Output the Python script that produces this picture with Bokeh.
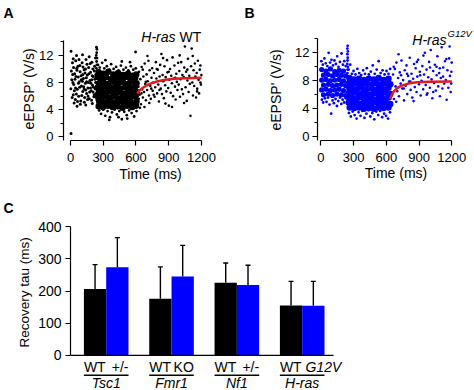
import math
from bokeh.plotting import figure
from bokeh.models import (ColumnDataSource, Range1d, FixedTicker, Label, Whisker,
                          TeeHead, Title)
from bokeh.layouts import column, row
from bokeh.embed import file_html
from bokeh.resources import INLINE

FONT = "Liberation Sans"

# ---------------- data: panel A (H-ras WT), time (ms), eEPSP' (V/s) -------------
A_EARLY = [(5,12.6),(12,8.4),(18,10.9),(25,6.2),(30,7.7),(38,9.3),(44,5.5),(50,8.9),(55,12.0),
           (62,7.0),(68,10.4),(75,6.0),(80,8.1),(88,9.6),(94,5.3),(100,7.5),(106,10.9),(112,6.7),
           (118,8.6),(125,9.9),(130,5.8),(136,7.9),(142,11.4),(148,6.4),(154,9.1),(160,7.2),
           (166,10.2),(172,5.6),(178,8.3),(184,9.5),(190,6.8),(196,11.0),(202,7.6),(208,8.9),
           (214,5.9),(220,10.4),(226,7.1),(232,9.2),(8,9.7),(15,5.8),(22,8.0),(28,10.2),(35,6.8),
           (41,8.5),(48,11.2),(53,6.3),(59,9.8),(65,5.2),(71,8.8),(78,11.4),(84,7.3),(90,4.8),
           (97,9.0),(103,6.1),(109,8.2),(115,10.3),(121,7.4),(127,5.1),(133,9.4),(139,6.9),
           (145,8.7),(151,10.7),(157,5.5),(163,8.0),(169,9.3),(175,6.6),(181,10.8),(187,7.9),
           (193,5.4),(199,9.0),(205,10.0),(211,7.3),(217,6.2),(223,8.5),(229,11.6),(234,6.4),
           (3,7.1),(20,9.2),(33,5.0),(46,7.2),(57,10.1),(73,7.9),(86,10.5),(99,8.4),(113,9.2),
           (124,7.0),(138,10.0),(147,8.1),(161,6.0),(171,11.8),(183,7.2),(195,8.4),(207,6.6),
           (219,9.7),(230,8.0),(60,4.5),(140,4.7),(200,4.9),(25,11.5),(110,12.1),(5,0.5)]
A_SPIKE = [(238,13.2),(242,12.9),(240,12.4),(236,12.0),(243,11.6),(239,11.1),(241,10.6),
           (237,10.1),(244,9.7),(238,9.2),(242,8.6),(240,8.0),(236,7.4),(243,6.8),(239,6.1),
           (241,5.4)]
A_TRAIN_CORE = [(258,9.5),(301,9.3),(347,9.6),(392,9.2),(436,9.4),(481,9.1),(527,9.3),(571,9.0),(602,9.2),
                (250,8.8),(280,8.6),(324,8.8),(369,8.5),(414,8.7),(459,8.6),(503,8.8),(549,8.5),(593,8.7),
                (262,7.9),(303,8.0),(346,7.8),(391,8.1),(437,7.9),(482,8.0),(526,7.8),(570,8.1),(605,7.9),
                (250,7.3),(283,7.2),(325,7.4),(369,7.2),(413,7.3),(458,7.1),(504,7.3),(548,7.2),(592,7.4),
                (261,6.6),(304,6.5),(347,6.7),(392,6.5),(436,6.6),(481,6.4),(526,6.6),(571,6.5),(606,6.6),
                (252,5.9),(284,5.8),(326,6.0),(370,5.8),(414,5.9),(459,5.7),(504,5.9),(549,5.8),(593,6.0),
                (263,5.2),(305,5.1),(348,5.3),(393,5.0),(437,5.2),(482,5.1),(527,5.3),(571,5.0),(604,5.2),
                (258,4.5),(298,4.4),(343,4.6),(386,4.4),(431,4.5),(476,4.3),(520,4.6),(566,4.4),(600,4.6)]
A_TRAIN_EDGE = [(252,10.6),(268,10.2),(290,10.9),(310,10.1),(333,10.4),(356,9.9),(372,10.7),(395,10.0),
                (418,10.3),(440,9.8),(462,10.5),(485,9.9),(508,10.2),(530,9.8),(553,10.4),(575,9.9),
                (598,10.1),(596,12.5),(470,11.1),(320,11.3),(545,11.0),
                (262,3.9),(280,3.4),(300,4.0),(318,3.1),(340,3.8),(362,2.9),(380,3.6),(404,4.0),
                (425,3.3),(447,3.8),(470,2.6),(492,3.7),(515,3.2),(537,3.9),(560,3.5),(583,3.0),
                (605,3.8),(355,2.5),(440,2.9),(520,2.7)]
A_RECOVERY = [(618,5.1),(622,7.4),(628,9.6),(633,6.2),(640,8.5),(646,4.8),(652,10.3),(657,7.0),(663,5.8),
              (668,8.9),(674,6.6),(680,10.8),(685,7.8),(691,5.4),(697,9.2),(702,6.9),(708,8.2),(714,11.2),
              (719,6.1),(725,9.8),(731,7.5),(736,5.6),(742,8.7),(748,10.1),(753,6.8),(759,8.0),(765,9.4),
              (770,5.9),(776,7.3),(782,11.0),(787,8.6),(793,6.4),(799,9.9),(804,7.7),(810,5.2),(816,8.9),
              (821,10.6),(827,7.1),(833,12.2),(838,6.3),(844,9.1),(850,8.2),(855,5.7),(861,10.4),(867,7.6),
              (872,8.8),(878,6.7),(884,11.3),(889,9.5),(895,7.2),(901,4.6),(906,8.4),(912,10.0),(918,6.5),
              (923,9.0),(929,7.9),(935,11.7),(940,6.0),(946,8.6),(952,10.5),(957,7.4),(963,5.5),(969,9.3),
              (974,8.1),(980,6.9),(986,10.9),(991,7.7),(997,9.7),(1003,5.9),(1008,8.5),(1014,11.0),
              (1020,7.0),(1025,9.1),(1031,6.3),(1037,8.8),(1042,10.2),(1048,13.3),(1054,7.3),(1059,9.6),
              (1065,5.3),(1071,8.3),(1076,11.5),(1082,6.6),(1088,9.0),(1093,7.8),(1099,3.1),(1105,10.4),
              (1110,13.0),(1116,8.0),(1122,6.1),(1127,9.8),(1133,7.5),(1139,10.8),(1144,8.9),(1150,5.8),
              (1156,9.4),(1161,7.1),(1167,11.2),(1173,8.4),(1178,6.4),(1184,9.9),(1190,10.5),(1195,7.7),
              (1199,9.1),(615,6.0),(625,5.6),(637,4.3),(650,6.4),(662,9.9),(677,4.4),(690,8.1),(705,11.9),
              (722,5.0),(740,7.1),(762,6.2),(790,10.0),(815,6.9),(848,11.6),(870,4.9),(900,9.6),(930,4.4),
              (960,8.7),(1000,12.0),(1040,5.0),(1070,9.9),(1120,11.9),(1160,6.7),(1190,8.0)]
A_FIT = [(611,6.4),(630,6.8),(660,7.2),(700,7.6),(750,7.95),(800,8.2),(870,8.4),(950,8.55),
         (1050,8.65),(1200,8.7)]

# ---------------- data: panel B (H-ras G12V) ----------------
B_EARLY_CORE = [(8,9.6),(48,9.4),(88,9.7),(128,9.3),(168,9.5),(208,9.4),
                (25,8.8),(68,8.9),(108,8.7),(148,8.9),(188,8.8),(228,8.7),
                (8,8.1),(48,8.2),(88,8.0),(128,8.1),(168,8.2),(208,8.0),
                (25,7.4),(68,7.5),(108,7.3),(148,7.4),(188,7.5),(228,7.3),
                (8,6.7),(48,6.8),(88,6.6),(128,6.7),(168,6.8),(208,6.6),
                (25,6.0),(68,6.1),(108,5.9),(148,6.1),(188,6.0),(228,5.9)]
B_EARLY_EDGE = [(5,10.8),(18,10.3),(33,11.2),(45,10.5),(60,10.1),(72,12.0),(85,10.6),(98,11.0),
                (112,10.2),(125,10.9),(138,10.4),(150,11.5),(162,10.0),(175,10.7),(190,11.9),(203,10.3),
                (215,10.8),(228,10.1),(10,5.3),(22,4.9),(38,5.5),(52,5.0),(66,5.6),(80,4.6),(95,3.3),
                (108,5.2),(120,4.8),(135,5.4),(148,4.4),(160,5.1),(175,5.6),(188,4.7),(200,5.3),
                (214,4.9),(228,5.5)]
B_SPIKE = [(246,13.0),(243,12.6),(248,12.2),(244,11.8),(247,11.3),(245,10.9),(243,10.4),(248,10.0),
           (245,9.6),(244,9.1)]
B_TRAIN_CORE = [(262,8.4),(305,8.2),(350,8.3),(395,8.1),(440,8.3),(485,8.2),(530,8.4),(575,8.1),(620,8.3),
                (252,7.6),(283,7.5),(327,7.7),(372,7.5),(417,7.6),(462,7.4),(507,7.6),(552,7.5),(597,7.7),(636,7.5),
                (262,6.9),(305,6.8),(350,7.0),(395,6.8),(440,6.9),(485,6.7),(530,6.9),(575,6.8),(620,7.0),
                (253,6.2),(283,6.1),(327,6.3),(372,6.1),(417,6.2),(462,6.0),(507,6.2),(552,6.1),(597,6.3),(636,6.1),
                (262,5.5),(305,5.4),(350,5.6),(395,5.4),(440,5.5),(485,5.3),(530,5.5),(575,5.4),(620,5.6),
                (255,4.9),(283,4.8),(327,4.9),(372,4.7),(417,4.8),(462,4.7),(507,4.9),(552,4.8),(597,4.9),(636,4.7),
                (265,4.2),(305,4.1),(350,4.2),(395,4.0),(440,4.1),(485,4.0),(530,4.2),(575,4.1),(620,4.2)]
B_TRAIN_EDGE = [(255,9.6),(270,10.3),(285,9.0),(300,9.4),(318,8.9),(335,9.7),(352,9.1),(370,8.8),
                (388,9.5),(405,9.0),(422,9.8),(440,8.9),(458,9.3),(476,10.2),(494,9.0),(512,9.6),
                (530,10.8),(548,9.1),(566,9.5),(584,8.9),(602,9.4),(620,9.0),(635,9.7),
                (258,3.4),(275,2.9),(292,3.6),(310,3.1),(328,2.6),(346,3.5),(364,3.0),(382,3.7),
                (400,2.7),(418,3.3),(436,3.8),(454,2.9),(472,3.4),(490,2.5),(508,3.6),(526,3.1),
                (544,3.7),(562,2.8),(580,3.3),(598,3.0),(616,2.6),(634,3.5)]
B_RECOVERY = [(655,6.3),(662,8.9),(670,5.4),(678,9.7),(685,7.2),(693,10.6),(700,6.5),(708,8.4),(716,5.8),
              (723,9.2),(731,7.6),(739,10.9),(746,6.9),(754,8.1),(762,5.2),(769,9.5),(777,7.3),(785,10.2),
              (792,6.1),(800,8.7),(808,7.9),(815,11.3),(823,6.7),(831,9.0),(838,5.6),(846,8.3),(854,10.4),
              (861,7.1),(869,9.8),(877,6.4),(884,8.6),(892,11.0),(900,7.5),(907,9.3),(915,5.9),(923,8.0),
              (930,10.1),(938,6.8),(946,8.9),(953,12.0),(961,7.4),(969,9.6),(976,6.2),(984,8.5),(992,10.7),
              (999,7.0),(1007,12.4),(1015,8.2),(1022,5.5),(1030,9.4),(1038,7.7),(1045,10.3),(1053,6.6),
              (1061,8.8),(1068,11.5),(1076,7.2),(1084,9.1),(1091,5.8),(1099,8.4),(1107,12.8),(1114,6.9),
              (1122,9.9),(1130,7.6),(1137,10.8),(1145,8.1),(1153,5.3),(1160,9.5),(1168,7.0),(1176,11.2),
              (1183,8.7),(1190,6.4),(1196,9.3),(1199,10.6),(652,7.5),(668,10.0),(690,5.0),(712,11.8),
              (735,8.8),(760,6.9),(790,9.0),(820,7.9),(850,5.1),(880,10.7),(910,8.8),(940,11.6),(970,6.0),
              (1000,9.9),(1030,6.4),(1060,10.0),(1090,9.8),(1120,8.6),(1150,11.1),(1180,12.9),(1195,7.6)]
B_FIT = [(636,5.4),(650,6.0),(670,6.5),(700,6.95),(740,7.3),(800,7.6),(880,7.8),(1000,7.88),(1200,7.9)]

# ---------------- data: panel C ----------------
GENES = ["Tsc1", "Fmr1", "Nf1", "H-ras"]
CTRL_LABELS = ["WT", "WT", "WT", "WT"]
MUT_LABELS = ["+/-", "KO", "+/-", "G12V"]
WT_TAU = [206, 176, 226, 155]
WT_SEM = [76, 99, 61, 75]
MUT_TAU = [274, 245, 219, 154]
MUT_SEM = [92, 97, 61, 76]

TIME_TICKS = [0, 300, 600, 900, 1200]
V_TICKS = [0, 4, 8, 12]
V_MINOR = [2, 6, 10, 14]
TAU_TICKS = [0, 100, 200, 300, 400]

RED = "#e3191f"
BLUE = "#0000ff"


def xy(pairs):
    return [p[0] for p in pairs], [p[1] for p in pairs]


class Geo:
    """maps page pixels to data coordinates for one figure's frame"""
    def __init__(self, left, bottom, x0, y0, sx, sy):
        self.left, self.bottom, self.x0, self.y0, self.sx, self.sy = left, bottom, x0, y0, sx, sy

    def x(self, px):
        return self.x0 + (px - self.left) / self.sx

    def y(self, py):
        return self.y0 + (self.bottom - py) / self.sy


def base_fig(w, h, xr, yr, ml, mr, mt, mb):
    p = figure(width=w, height=h, output_backend="svg", toolbar_location=None,
               x_range=Range1d(*xr), y_range=Range1d(*yr),
               min_border_left=ml, min_border_right=mr, min_border_top=mt, min_border_bottom=mb)
    p.xgrid.visible = False
    p.ygrid.visible = False
    p.outline_line_color = None
    p.background_fill_color = "white"
    p.border_fill_color = "white"
    for ax in p.axis:
        ax.axis_line_color = "black"
        ax.axis_line_width = 1.2
        ax.major_tick_line_color = "black"
        ax.major_tick_line_width = 1.2
        ax.minor_tick_line_color = "black"
        ax.major_tick_in = 0
        ax.major_tick_out = 5
        ax.minor_tick_in = 0
        ax.minor_tick_out = 3
        ax.major_label_text_font = FONT
        ax.major_label_text_color = "black"
        ax.axis_label_text_font = FONT
        ax.axis_label_text_font_style = "normal"
        ax.axis_label_text_color = "black"
    return p


def label(p, x, y, text, size="14px", style="normal", align="left"):
    # y is the vertical centre of the capital letters
    p.add_layout(Label(x=x, y=y, text=text, text_font=FONT, text_font_size=size,
                       text_font_style=style, text_align=align, text_baseline="middle",
                       text_color="black"))


def panel_title(p, text, offset, standoff):
    p.title.text = text
    p.title.align = "left"
    p.title.offset = offset
    p.title.standoff = standoff
    p.title.text_font = FONT
    p.title.text_font_size = "14px"
    p.title.text_font_style = "bold"
    p.title.text_color = "black"


def side_title(p, text, size, offset, standoff):
    p.add_layout(Title(text=text, align="left", offset=offset, standoff=standoff,
                       text_font=FONT, text_font_size=size, text_font_style="normal",
                       text_color="black"), "left")


def scatter_panel(w, h, xr, yr, ml, mr, mt, mb, ybound_lo, ybound_hi,
                  ytick_standoff, xtick_standoff, xlab_standoff):
    p = base_fig(w, h, xr, yr, ml, mr, mt, mb)
    p.xaxis.ticker = FixedTicker(ticks=TIME_TICKS, minor_ticks=[])
    p.yaxis.ticker = FixedTicker(ticks=V_TICKS, minor_ticks=V_MINOR)
    p.xaxis.bounds = (0, 1200)
    p.yaxis.bounds = (ybound_lo, ybound_hi)
    p.xaxis.axis_label = "Time (ms)"
    for ax in p.axis:
        ax.major_label_text_font_size = "13px"
        ax.axis_label_text_font_size = "14px"
    p.yaxis.major_label_standoff = ytick_standoff
    p.xaxis.major_label_standoff = xtick_standoff
    p.xaxis.axis_label_standoff = xlab_standoff
    return p


SX = 131 / 1200   # px per ms in both scatter panels

# ---------------- panel A (page x 0..237, y 0..195) ----------------
gA = Geo(63, 143, -64.1, -0.531, SX, 6.967)
pA = scatter_panel(237, 195, (-64.1, -64.1 + 174 / SX), (-0.531, 16.84), 63, 0, 22, 52,
                   -0.531, 14.2, 5, 7, 1)
for pts, sz in [(A_EARLY, 3.0), (A_SPIKE, 2.8), (A_TRAIN_EDGE, 2.8), (A_RECOVERY, 2.6)]:
    xs, ys = xy(pts)
    pA.scatter(xs, ys, size=sz, fill_color="black", line_color=None)
xs, ys = xy(A_TRAIN_CORE)
pA.scatter(xs, ys, size=6.5, fill_color="black", line_color=None)
xs, ys = xy(A_FIT)
pA.line(xs, ys, line_color=RED, line_width=2.5)
panel_title(pA, "A", -60, 3)
side_title(pA, "eEPSP' (V/s)", "14px", 11, 0)
label(pA, gA.x(175), gA.y(36.7), "H-ras", style="italic", align="right")
label(pA, gA.x(179), gA.y(36.7), "WT")

# ---------------- panel B (page x 237..474, y 0..195) ----------------
gB = Geo(317, 140, -30.2, -0.529, SX, 7.0)
pB = scatter_panel(237, 195, (-30.2, -30.2 + 157 / SX), (-0.529, 16.33), 80, 0, 22, 55,
                   -0.529, 14.04, 3, 7, 0)
for pts, sz in [(B_EARLY_EDGE, 2.8), (B_SPIKE, 2.8), (B_TRAIN_EDGE, 2.8), (B_RECOVERY, 2.6)]:
    xs, ys = xy(pts)
    pB.scatter(xs, ys, size=sz, fill_color=BLUE, line_color=None)
xs, ys = xy(B_EARLY_CORE)
pB.scatter(xs, ys, size=5.2, fill_color=BLUE, line_color=None)
xs, ys = xy(B_TRAIN_CORE)
pB.scatter(xs, ys, size=6.5, fill_color=BLUE, line_color=None)
xs, ys = xy(B_FIT)
pB.line(xs, ys, line_color=RED, line_width=2.5)
panel_title(pB, "B", -73, 3)
side_title(pB, "eEPSP' (V/s)", "14px", 10, 17)
label(pB, gB.x(446), gB.y(39.2), "H-ras", style="italic", align="right")
label(pB, gB.x(447), gB.y(32.7), "G12V", size="9.5px", style="italic")

# ---------------- panel C (page x 0..474, y 195..390) ----------------
gap_px = 65.33
bw = 22.3 / gap_px
gC = Geo(70, 390, 0.4535, -109.1, gap_px, 0.3255)
pC = base_fig(474, 195, (0.4535, 0.4535 + 275 / gap_px), (-109.1, 428.6), 70, 129, 20, 0)
pC.xaxis.visible = False
pC.yaxis.ticker = FixedTicker(ticks=TAU_TICKS, minor_ticks=[])
pC.yaxis.bounds = (0, 400)
pC.yaxis.major_label_text_font_size = "14px"
pC.yaxis.major_label_standoff = 4
pC.yaxis.axis_label = None
panel_title(pC, "C", -67, 4)
side_title(pC, "Recovery tau (ms)", "13.5px", 43, 7)

gx = [i + 1 for i in range(len(GENES))]
src = ColumnDataSource(dict(
    xw=[g - bw / 2 for g in gx], xm=[g + bw / 2 for g in gx],
    wt=WT_TAU, mut=MUT_TAU,
    wt_hi=[t + e for t, e in zip(WT_TAU, WT_SEM)],
    mut_hi=[t + e for t, e in zip(MUT_TAU, MUT_SEM)]))
pC.vbar(x="xw", top="wt", bottom=0, width=bw, fill_color="black", line_color=None, source=src)
pC.vbar(x="xm", top="mut", bottom=0, width=bw, fill_color=BLUE, line_color=None, source=src)
for base, lo, hi in [("xw", "wt", "wt_hi"), ("xm", "mut", "mut_hi")]:
    pC.add_layout(Whisker(base=base, lower=lo, upper=hi, source=src, line_color="black",
                          line_width=1.4, lower_head=None,
                          upper_head=TeeHead(size=5, line_color="black", line_width=1.4)))
# x axis line (category axis without ticks) ending at the last bar group
pC.segment(x0=[gC.x(70)], x1=[gC.x(333)], y0=[0], y1=[0], line_color="black", line_width=1.2)

# group labels with underline
y_top = gC.y(366.7)
y_line = gC.y(374.5)
y_bot = gC.y(382.5)
pC.segment(x0=[g - bw for g in gx], x1=[g + bw for g in gx], y0=[y_line] * 4, y1=[y_line] * 4,
           line_color="black", line_width=1.5)
for g, c, m, gene in zip(gx, CTRL_LABELS, MUT_LABELS, GENES):
    label(pC, g - bw, y_top, c)
    if m == "G12V":
        label(pC, g + 0.05, y_top, m, style="italic")
    else:
        label(pC, g + bw, y_top, m, align="right")
    label(pC, g, y_bot, gene, style="italic", align="center")

layout = column(row(pA, pB), pC)
open("out.html", "w").write(file_html(layout, INLINE))
